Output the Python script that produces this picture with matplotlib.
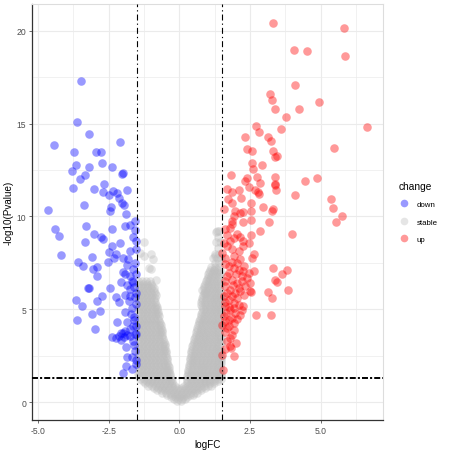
import numpy as np
import matplotlib
matplotlib.use("Agg")
import matplotlib.pyplot as plt
from matplotlib.lines import Line2D

matplotlib.rcParams.update({'font.family': 'Liberation Sans', 'lines.scale_dashes': False})

# ---------------- data ----------------
down_logfc = [-3.49, -3.62, -3.19, -4.43, -2.10, -3.73, -2.94, -2.78, -2.72, -3.67, -3.20, -2.39,
              -3.80, -3.35, -3.51, -1.98, -2.02, -2.65, -3.75, -3.01, -2.70, -2.34, -2.48, -2.20,
              -1.86, -2.13, -2.02, -1.95, -3.36, -2.43, -2.45, -1.87, -4.66, -1.57, -3.29, -1.91,
              -1.73, -4.39, -4.26, -2.40, -1.58, -3.03, -2.77, -2.71, -3.33, -2.37, -2.11, -1.64,
              -1.52, -4.18, -3.58, -3.42, -3.09, -2.50, -2.23, -2.30, -2.51, -2.00, -1.81, -1.73,
              -1.52, -3.05, -2.91, -2.92, -1.86, -1.65, -1.58, -1.98, -1.91, -1.73, -1.65, -2.06,
              -1.68, -3.24, -3.20, -2.44, -2.23, -2.14, -1.92, -1.77, -1.74, -1.58, -3.67, -3.43,
              -2.75, -2.90, -3.08, -2.79, -1.92, -1.67, -1.59, -1.61, -3.63, -2.22, -1.85, -2.98,
              -2.40, -2.14, -2.07, -1.91, -1.85, -1.58, -1.52, -1.97, -1.73, -1.63, -1.90, -2.08,
              -1.65, -1.57, -1.85, -1.67, -1.90, -1.66, -1.98, -1.52, -1.55, -1.60, -1.75, -1.55,
              -1.85, -1.55, -1.70, -1.55, -1.75, -1.60, -1.55, -2.25, -2.00]
down_p = [17.29, 15.09, 14.46, 13.85, 13.99, 13.45, 13.45, 13.49, 12.88, 12.75, 12.68, 12.68,
          12.44, 12.23, 12.00, 12.32, 12.28, 11.76, 11.51, 11.46, 11.31, 11.35, 11.15, 11.28,
          11.42, 10.97, 10.72, 10.61, 10.61, 10.50, 10.31, 10.11, 10.34, 9.77, 9.51, 9.51,
          9.55, 9.32, 8.96, 9.30, 9.28, 9.03, 8.88, 8.80, 8.60, 8.42, 8.58, 8.90,
          8.70, 7.91, 7.52, 7.34, 7.84, 8.07, 7.99, 7.77, 7.53, 7.75, 7.72, 8.13,
          8.22, 7.19, 7.26, 6.78, 7.39, 7.19, 7.50, 7.03, 6.89, 6.78, 6.45, 6.45,
          6.50, 6.17, 6.15, 6.13, 5.67, 5.40, 5.74, 5.43, 5.70, 5.65, 5.52, 5.20,
          5.72, 5.47, 4.75, 4.89, 4.86, 5.07, 4.59, 4.44, 4.40, 4.32, 4.33, 3.96,
          3.51, 3.58, 3.72, 3.85, 3.62, 3.65, 3.69, 3.51, 3.94, 4.12, 2.97, 3.32,
          3.27, 2.77, 2.43, 2.41, 1.92, 1.78, 1.56, 2.28, 6.90, 6.20, 6.10, 5.90,
          6.30, 5.30, 4.75, 4.10, 3.55, 3.05, 2.05, 3.45, 3.70]

up_logfc = [3.30, 5.84, 4.05, 4.50, 5.85, 4.10, 3.20, 3.29, 4.95, 3.40, 4.25, 3.76,
            6.63, 2.71, 2.83, 3.58, 2.31, 3.13, 3.24, 2.40, 2.58, 3.31, 3.44, 3.39,
            5.48, 2.57, 2.94, 2.60, 1.84, 2.38, 2.75, 3.39, 2.34, 2.84, 3.38, 3.40,
            4.43, 4.87, 1.67, 1.88, 2.12, 2.46, 3.42, 2.69, 2.79, 2.83, 4.09, 2.19,
            1.73, 1.85, 5.37, 5.43, 2.55, 2.54, 2.97, 3.32, 3.29, 1.57, 1.97, 2.14,
            2.25, 1.93, 5.74, 1.87, 2.25, 2.53, 3.17, 5.56, 3.98, 2.86, 2.53,
            1.63, 1.86, 1.80, 2.04, 2.25, 2.45, 2.27, 2.10, 1.86, 1.68, 1.57, 1.80,
            2.63, 2.57, 1.92, 2.16, 1.63, 1.51, 1.74, 1.92, 2.10, 2.27, 2.45, 2.63,
            1.68, 1.86, 2.04, 2.21, 2.39, 2.51, 1.63, 1.80, 1.98, 2.16, 2.33, 2.51,
            1.57, 1.74, 1.92, 2.10, 2.27, 1.63, 1.80, 1.98, 2.16, 1.57, 1.74, 1.92,
            1.51, 1.68, 1.86, 1.80, 1.80, 1.92, 1.51, 1.54, 2.53, 3.83, 2.72, 3.24,
            3.31, 3.81, 3.64, 3.39, 3.45, 3.12, 3.28, 1.83,
            1.70, 1.95, 2.15, 1.60, 1.85, 2.05, 2.30, 1.75, 2.00, 2.20, 1.60, 1.90,
            2.10, 2.30, 1.70, 1.85, 2.05, 1.60, 1.75, 1.95, 2.20, 1.65, 1.85, 2.05,
            1.60, 1.75, 1.95, 1.60, 1.70, 1.60, 2.00]
up_p = [20.43, 20.15, 18.97, 18.94, 18.63, 17.07, 16.60, 16.30, 16.17, 15.81, 15.79, 15.38,
        14.82, 14.89, 14.55, 14.73, 14.26, 14.30, 14.05, 13.62, 13.52, 13.55, 13.25, 13.20,
        13.69, 12.90, 12.75, 12.57, 12.25, 12.07, 12.14, 12.12, 11.89, 11.82, 11.76, 11.69,
        11.89, 12.05, 11.47, 11.33, 11.42, 11.58, 11.40, 11.40, 11.31, 11.19, 11.17, 10.99,
        10.96, 10.74, 10.96, 10.45, 10.70, 10.27, 10.49, 10.42, 10.27, 10.42, 10.27, 10.18,
        10.23, 10.05, 10.05, 9.75, 9.69, 9.80, 9.71, 9.69, 9.04, 9.19, 8.99,
        9.30, 9.57, 9.39, 9.03, 8.67, 8.58, 8.40, 8.13, 8.22, 8.40, 8.58, 8.67,
        7.95, 7.77, 7.86, 7.68, 7.77, 8.04, 7.32, 7.23, 7.14, 7.05, 6.96, 7.05,
        6.78, 6.60, 6.42, 6.51, 6.69, 6.42, 6.24, 6.06, 5.88, 5.97, 6.24, 5.97,
        5.70, 5.52, 5.34, 5.25, 5.16, 5.16, 4.98, 4.80, 4.71, 4.62, 4.44, 4.26,
        4.17, 3.99, 3.63, 3.45, 3.00, 2.46, 2.55, 1.71, 5.94, 6.01, 4.67, 4.71,
        7.23, 7.14, 6.91, 6.55, 6.45, 5.92, 5.61, 2.91,
        9.00, 8.85, 8.90, 7.45, 7.55, 7.50, 7.35, 6.95, 6.90, 6.80, 6.50, 6.30,
        6.15, 5.75, 5.90, 5.70, 5.60, 5.40, 5.10, 5.05, 4.95, 4.80, 4.55, 4.45,
        4.35, 4.10, 3.90, 3.75, 3.30, 2.85, 3.20]

# stable genes: rows of -log10(P) with the logFC values read in each row
stable_row_p = [6.5, 6.375, 6.25, 6.125, 6.0, 5.875, 5.75, 5.625, 5.5, 5.375, 5.25, 5.125,
                5.0, 4.875, 4.75, 4.625, 4.5, 4.375, 4.25, 4.125, 4.0, 3.875, 3.75, 3.625,
                3.5, 3.375, 3.25, 3.125, 3.0, 2.875, 2.75, 2.625, 2.5, 2.375, 2.25, 2.125,
                2.0, 1.875, 1.75, 1.625, 1.5, 1.375, 1.25, 1.125, 1.0,
                9.2, 8.9, 8.6, 8.3, 8.0, 7.75, 7.5, 7.25, 7.125, 7.0, 6.875, 6.75, 6.625,
                6.5, 6.375, 6.25, 6.125, 6.0, 5.875, 5.75, 5.625, 5.5, 5.375, 5.25, 5.125,
                5.0, 4.875, 4.75, 4.625, 4.5, 4.375, 4.25, 4.125, 4.0, 3.875, 3.75, 3.625,
                3.5, 3.375, 3.25, 3.125, 3.0, 2.875, 2.75, 2.625, 2.5, 2.375, 2.25, 2.125,
                2.0, 1.875, 1.75, 1.625, 1.5, 1.375, 1.25, 1.125, 1.0,
                0.875, 0.75, 0.625, 0.5, 0.375, 0.25, 0.15, 0.05]
stable_row_fc = [
    # left arm
    [-1.45, -1.31, -1.17, -1.03],
    [-1.42, -1.28, -1.14, -1.00],
    [-1.38, -1.24, -1.10, -0.96],
    [-1.42, -1.28, -1.14, -1.00, -0.90],
    [-1.45, -1.31, -1.17, -1.03, -0.89],
    [-1.42, -1.28, -1.14, -1.00, -0.87],
    [-1.38, -1.24, -1.10, -0.96, -0.84],
    [-1.42, -1.28, -1.14, -1.00, -0.86],
    [-1.45, -1.31, -1.17, -1.03, -0.89],
    [-1.42, -1.28, -1.14, -1.00, -0.85],
    [-1.38, -1.24, -1.10, -0.96, -0.82],
    [-1.42, -1.28, -1.14, -1.00, -0.86, -0.80],
    [-1.45, -1.31, -1.17, -1.03, -0.89, -0.79],
    [-1.42, -1.28, -1.14, -1.00, -0.86, -0.77],
    [-1.38, -1.24, -1.10, -0.96, -0.82, -0.74],
    [-1.42, -1.28, -1.14, -1.00, -0.86, -0.73],
    [-1.45, -1.31, -1.17, -1.03, -0.89, -0.75],
    [-1.42, -1.28, -1.14, -1.00, -0.86, -0.72],
    [-1.38, -1.24, -1.10, -0.96, -0.82, -0.68],
    [-1.42, -1.28, -1.14, -1.00, -0.86, -0.72, -0.66],
    [-1.45, -1.31, -1.17, -1.03, -0.89, -0.75, -0.64],
    [-1.42, -1.28, -1.14, -1.00, -0.86, -0.72, -0.62],
    [-1.38, -1.24, -1.10, -0.96, -0.82, -0.68, -0.60],
    [-1.42, -1.28, -1.14, -1.00, -0.86, -0.72, -0.60],
    [-1.45, -1.31, -1.17, -1.03, -0.89, -0.75, -0.61],
    [-1.42, -1.28, -1.14, -1.00, -0.86, -0.72, -0.58],
    [-1.38, -1.24, -1.10, -0.96, -0.82, -0.68, -0.54],
    [-1.42, -1.28, -1.14, -1.00, -0.86, -0.72, -0.58, -0.52],
    [-1.45, -1.31, -1.17, -1.03, -0.89, -0.75, -0.61, -0.51],
    [-1.42, -1.28, -1.14, -1.00, -0.86, -0.72, -0.58, -0.50],
    [-1.38, -1.24, -1.10, -0.96, -0.82, -0.68, -0.54, -0.47],
    [-1.42, -1.28, -1.14, -1.00, -0.86, -0.72, -0.58, -0.46],
    [-1.45, -1.31, -1.17, -1.03, -0.89, -0.75, -0.61, -0.47],
    [-1.42, -1.28, -1.14, -1.00, -0.86, -0.72, -0.58, -0.44],
    [-1.38, -1.24, -1.10, -0.96, -0.82, -0.68, -0.54, -0.42],
    [-1.42, -1.28, -1.14, -1.00, -0.86, -0.72, -0.58, -0.42],
    [-1.45, -1.31, -1.17, -1.03, -0.89, -0.75, -0.61, -0.49, -0.40],
    [-1.42, -1.28, -1.14, -1.00, -0.86, -0.72, -0.58, -0.46, -0.38],
    [-1.38, -1.24, -1.10, -0.96, -0.82, -0.68, -0.54, -0.42, -0.35],
    [-1.42, -1.28, -1.14, -1.00, -0.86, -0.72, -0.58, -0.44, -0.35],
    [-1.45, -1.31, -1.17, -1.03, -0.89, -0.75, -0.61, -0.47, -0.34],
    [-1.42, -1.28, -1.14, -1.00, -0.86, -0.72, -0.58, -0.44, -0.32],
    [-1.38, -1.24, -1.10, -0.96, -0.82, -0.68, -0.54, -0.40, -0.30],
    [-1.30, -1.16, -1.02, -0.88, -0.74, -0.60, -0.46, -0.33, -0.27],
    [-1.20, -1.06, -0.92, -0.78, -0.64, -0.50, -0.37, -0.26],
    # right arm
    [1.33, 1.42],
    [1.38],
    [1.30, 1.44],
    [1.36],
    [1.27, 1.41],
    [1.20, 1.34, 1.46],
    [1.27, 1.41],
    [1.13, 1.27, 1.41],
    [1.10, 1.24, 1.38],
    [1.06, 1.20, 1.34, 1.46],
    [1.03, 1.17, 1.31, 1.44],
    [1.00, 1.13, 1.27, 1.41],
    [0.97, 1.10, 1.24, 1.38],
    [0.93, 1.06, 1.20, 1.34, 1.46],
    [0.90, 1.03, 1.17, 1.31, 1.45],
    [0.86, 1.00, 1.13, 1.27, 1.41],
    [0.88, 1.00, 1.14, 1.28, 1.42],
    [0.90, 1.03, 1.17, 1.31, 1.45],
    [0.86, 0.99, 1.13, 1.27, 1.41],
    [0.82, 0.96, 1.10, 1.24, 1.38, 1.47],
    [0.80, 0.93, 1.07, 1.21, 1.35, 1.46],
    [0.79, 0.93, 1.07, 1.21, 1.35, 1.47],
    [0.78, 0.91, 1.05, 1.19, 1.33, 1.46],
    [0.77, 0.90, 1.04, 1.18, 1.32, 1.46],
    [0.80, 0.93, 1.07, 1.21, 1.35, 1.46],
    [0.82, 0.96, 1.10, 1.24, 1.38, 1.47],
    [0.80, 0.93, 1.07, 1.21, 1.35, 1.46],
    [0.77, 0.90, 1.04, 1.18, 1.32, 1.46],
    [0.75, 0.88, 1.02, 1.16, 1.30, 1.44],
    [0.72, 0.86, 1.00, 1.14, 1.28, 1.42],
    [0.70, 0.83, 0.97, 1.11, 1.25, 1.39],
    [0.68, 0.80, 0.94, 1.08, 1.22, 1.36, 1.47],
    [0.66, 0.79, 0.93, 1.07, 1.21, 1.35, 1.46],
    [0.64, 0.77, 0.91, 1.05, 1.19, 1.33, 1.46],
    [0.62, 0.75, 0.89, 1.03, 1.17, 1.31, 1.44],
    [0.60, 0.72, 0.86, 1.00, 1.14, 1.28, 1.42],
    [0.58, 0.70, 0.84, 0.98, 1.12, 1.26, 1.40],
    [0.55, 0.68, 0.82, 0.96, 1.10, 1.24, 1.38, 1.47],
    [0.53, 0.66, 0.80, 0.94, 1.08, 1.22, 1.36, 1.46],
    [0.51, 0.64, 0.77, 0.91, 1.05, 1.19, 1.33, 1.46],
    [0.49, 0.62, 0.75, 0.89, 1.03, 1.17, 1.31, 1.44],
    [0.46, 0.60, 0.73, 0.87, 1.01, 1.15, 1.29, 1.42],
    [0.45, 0.58, 0.72, 0.86, 1.00, 1.14, 1.28, 1.41],
    [0.43, 0.56, 0.70, 0.84, 0.98, 1.12, 1.26, 1.40, 1.47],
    [0.42, 0.55, 0.69, 0.83, 0.97, 1.11, 1.25, 1.39],
    [0.40, 0.53, 0.67, 0.81, 0.95, 1.09, 1.23, 1.37, 1.47],
    [0.39, 0.52, 0.66, 0.80, 0.94, 1.08, 1.22, 1.36, 1.46],
    [0.37, 0.50, 0.64, 0.78, 0.92, 1.06, 1.20, 1.34, 1.46],
    [0.36, 0.49, 0.63, 0.77, 0.91, 1.05, 1.19, 1.33, 1.46],
    [0.35, 0.48, 0.62, 0.76, 0.90, 1.04, 1.18, 1.32, 1.45],
    [0.34, 0.47, 0.61, 0.75, 0.89, 1.03, 1.17, 1.31, 1.44],
    [0.32, 0.45, 0.59, 0.73, 0.87, 1.01, 1.15, 1.29, 1.43],
    [0.31, 0.44, 0.58, 0.72, 0.86, 1.00, 1.14, 1.28, 1.42],
    [0.29, 0.42, 0.56, 0.70, 0.84, 0.98, 1.12, 1.26, 1.40, 1.47],
    [0.28, 0.41, 0.55, 0.69, 0.83, 0.97, 1.11, 1.25, 1.39, 1.47],
    [0.27, 0.40, 0.54, 0.68, 0.82, 0.96, 1.10, 1.24, 1.38, 1.46],
    [0.27, 0.40, 0.54, 0.68, 0.82, 0.96, 1.10, 1.24, 1.36],
    [0.26, 0.40, 0.54, 0.68, 0.82, 0.96, 1.10, 1.24],
    # bottom of the V
    [-1.10, -0.96, -0.82, -0.68, -0.54, -0.40, -0.26, -0.14, 0.16, 0.30, 0.44, 0.58, 0.72, 0.86, 1.00, 1.12],
    [-0.91, -0.77, -0.63, -0.49, -0.35, -0.21, -0.07, 0.07, 0.21, 0.35, 0.49, 0.63, 0.77, 0.91],
    [-0.78, -0.64, -0.50, -0.36, -0.22, -0.08, 0.06, 0.20, 0.34, 0.48, 0.62, 0.76],
    [-0.60, -0.46, -0.32, -0.18, -0.04, 0.10, 0.24, 0.38, 0.52, 0.64],
    [-0.45, -0.31, -0.17, -0.03, 0.11, 0.25, 0.39, 0.48],
    [-0.30, -0.16, -0.02, 0.12, 0.26],
    [-0.18, -0.04, 0.10, 0.20],
    [-0.08, 0.06],
]
stable_extra_fc = [-1.24, -1.02, -0.93, -1.00, -1.26, -1.40, -1.06, -0.81, 0.80, 1.31, 1.27, 1.21, 0.92]
stable_extra_p = [8.61, 7.95, 7.70, 7.19, 7.86, 8.04, 7.23, 6.60, 6.05, 9.15, 7.86, 7.14, 5.88]

fc_cut = 1.5
p_cut = -np.log10(0.05)

# ---------------- plot ----------------
stable_fc = [v for row in stable_row_fc for v in row] + stable_extra_fc
stable_p = [p for p, row in zip(stable_row_p, stable_row_fc) for _ in row] + stable_extra_p

fig = plt.figure(figsize=(4.52, 4.52), dpi=100)
ax = fig.add_axes([0.0701, 0.0686, 0.7765, 0.9204])

ms = 38
ax.scatter(stable_fc, stable_p, s=ms, c='#BEBEBE', alpha=0.4, linewidths=0, zorder=2)
ax.scatter(down_logfc, down_p, s=ms, c='#0000FF', alpha=0.4, linewidths=0, zorder=3)
ax.scatter(up_logfc, up_p, s=ms, c='#FF0000', alpha=0.4, linewidths=0, zorder=3)

for xv in (-fc_cut, fc_cut):
    ax.axvline(xv, color='black', lw=0.8, dashes=(4.3, 2.2, 0.9, 2.2), zorder=4)
ax.axhline(p_cut, color='black', lw=1.4, dashes=(4.3, 1.5, 1.5, 1.5), zorder=4)

all_x = down_logfc + up_logfc + stable_fc
all_y = down_p + up_p + stable_p
xr = max(all_x) - min(all_x)
yr = max(all_y) - min(all_y)
ax.set_xlim(min(all_x) - 0.05 * xr, max(all_x) + 0.05 * xr)
ax.set_ylim(min(all_y) - 0.05 * yr, max(all_y) + 0.05 * yr)

ax.set_xticks([-5.0, -2.5, 0.0, 2.5, 5.0])
ax.set_xticklabels(['-5.0', '-2.5', '0.0', '2.5', '5.0'])
ax.set_yticks([0, 5, 10, 15, 20])
ax.set_xticks([-3.75, -1.25, 1.25, 3.75, 6.25], minor=True)
ax.set_yticks([2.5, 7.5, 12.5, 17.5], minor=True)
ax.grid(True, which='major', color='#EBEBEB', lw=0.8, zorder=0)
ax.grid(True, which='minor', color='#EBEBEB', lw=0.5, zorder=0)
ax.set_axisbelow(True)
ax.tick_params(which='major', length=2, width=0.5, color='#333333', labelsize=6.2,
               labelcolor='#4D4D4D', pad=2)
ax.tick_params(which='minor', length=0)
for s in ('top', 'right'):
    ax.spines[s].set_color('#DDDDDD')
    ax.spines[s].set_linewidth(0.8)
for s in ('left', 'bottom'):
    ax.spines[s].set_color('#333333')
    ax.spines[s].set_linewidth(0.9)

ax.set_xlabel('logFC', fontsize=7.1, labelpad=3)
ax.set_ylabel('-log10(Pvalue)', fontsize=7.1, labelpad=2)

handles = [Line2D([], [], ls='', marker='o', ms=5.5, mec='none', mfc=c, alpha=0.4)
           for c in ('#0000FF', '#BEBEBE', '#FF0000')]
leg = fig.legend(handles, ['down', 'stable', 'up'], title='change', loc='upper left',
                 bbox_to_anchor=(0.876, 0.605), frameon=False, fontsize=5.7,
                 title_fontsize=7.3, handletextpad=1.0, labelspacing=1.25,
                 handlelength=1.2, borderaxespad=0)
leg._legend_box.align = 'left'

plt.savefig('out.png', dpi=100)
